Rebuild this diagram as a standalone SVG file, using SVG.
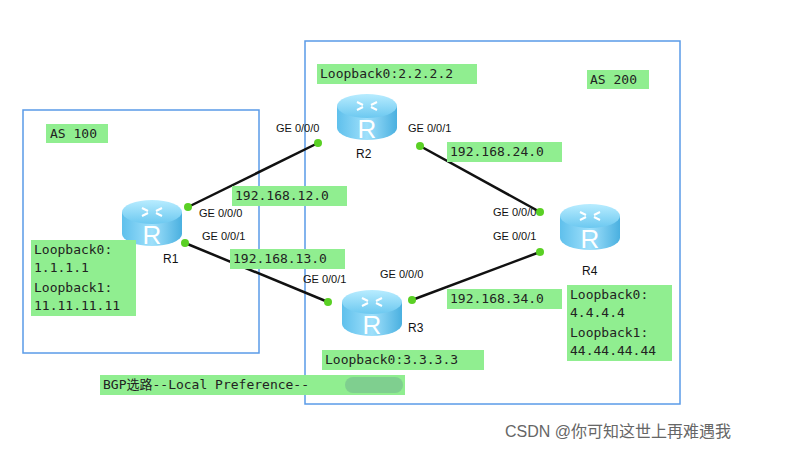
<svg xmlns="http://www.w3.org/2000/svg" width="792" height="449" viewBox="0 0 792 449">
<defs>
<linearGradient id="top" x1="0" y1="0" x2="0" y2="1"><stop offset="0" stop-color="#b8ecff"/><stop offset="1" stop-color="#6cc8f0"/></linearGradient>
<linearGradient id="side" x1="0" y1="0" x2="1" y2="0"><stop offset="0" stop-color="#5fc0ec"/><stop offset="0.5" stop-color="#9fe0fb"/><stop offset="1" stop-color="#4ab0e0"/></linearGradient>
<g id="router">
<path d="M-30,-10 V12 A30,12 0 0 0 30,12 V-10 Z" fill="url(#side)"/>
<ellipse cx="0" cy="-10" rx="30" ry="12" fill="url(#top)"/>
<path d="M-10,-14 l6,3 M10,-6 l-6,-3 M-10,-6 l6,-3 M10,-14 l-6,3" stroke="#fff" stroke-width="2"/>
<text x="0" y="22" font-family="Liberation Sans, sans-serif" font-size="26" fill="#fff" text-anchor="middle">R</text>
</g>
</defs>
<style>
.lb{fill:#90ee90}
.t{font-family:"DejaVu Sans Mono","Noto Sans CJK SC",monospace;font-size:13px;fill:#222}
.s{font-family:"Liberation Sans",sans-serif;font-size:11px;fill:#111}
.n{font-family:"Liberation Sans",sans-serif;font-size:12px;fill:#111}
.ln{stroke:#111;stroke-width:2.5}
.d{fill:#5ad024}
</style>
<rect width="792" height="449" fill="#fff"/>
<rect x="23" y="110" width="236" height="243" fill="none" stroke="#5a9be8" stroke-width="1.5"/>
<rect x="305" y="41" width="375" height="363" fill="none" stroke="#5a9be8" stroke-width="1.5"/>
<g id="connectors">
<line class="ln" x1="188" y1="207" x2="318" y2="143"/>
<line class="ln" x1="185" y1="243" x2="328" y2="302"/>
<line class="ln" x1="420" y1="146" x2="540" y2="212"/>
<line class="ln" x1="412" y1="300" x2="540" y2="252"/>
<circle class="d" cx="188" cy="207" r="4"/><circle class="d" cx="318" cy="143" r="4"/>
<circle class="d" cx="185" cy="243" r="4"/><circle class="d" cx="328" cy="302" r="4"/>
<circle class="d" cx="420" cy="146" r="4"/><circle class="d" cx="540" cy="212" r="4"/>
<circle class="d" cx="412" cy="300" r="4"/><circle class="d" cx="540" cy="252" r="4"/>
</g>
<g id="R1"><use href="#router" x="152" y="222"/><text class="n" x="163" y="263">R1</text></g>
<g id="R2"><use href="#router" x="367" y="116"/><text class="n" x="356" y="158">R2</text></g>
<g id="R3"><use href="#router" x="372" y="312"/><text class="n" x="408" y="332">R3</text></g>
<g id="R4"><use href="#router" x="590" y="226"/><text class="n" x="582" y="275">R4</text></g>
<g id="labels">
<rect class="lb" x="46" y="124" width="62" height="19"/><text class="t" x="50" y="138">AS 100</text>
<rect class="lb" x="587" y="70" width="62" height="19"/><text class="t" x="590" y="84">AS 200</text>
<rect class="lb" x="317" y="64" width="160" height="20"/><text class="t" x="320" y="78">Loopback0:2.2.2.2</text>
<rect class="lb" x="322" y="350" width="162" height="20"/><text class="t" x="325" y="364">Loopback0:3.3.3.3</text>
<rect class="lb" x="31" y="240" width="105" height="76"/>
<text class="t" x="34" y="254">Loopback0:</text><text class="t" x="34" y="272">1.1.1.1</text>
<text class="t" x="34" y="292">Loopback1:</text><text class="t" x="34" y="310">11.11.11.11</text>
<rect class="lb" x="567" y="285" width="105" height="76"/>
<text class="t" x="570" y="299">Loopback0:</text><text class="t" x="570" y="317">4.4.4.4</text>
<text class="t" x="570" y="337">Loopback1:</text><text class="t" x="570" y="355">44.44.44.44</text>
<rect class="lb" x="232" y="186" width="115" height="20"/><text class="t" x="235" y="200">192.168.12.0</text>
<rect class="lb" x="230" y="249" width="115" height="20"/><text class="t" x="233" y="263">192.168.13.0</text>
<rect class="lb" x="447" y="142" width="115" height="20"/><text class="t" x="450" y="156">192.168.24.0</text>
<rect class="lb" x="447" y="289" width="115" height="20"/><text class="t" x="450" y="303">192.168.34.0</text>
<rect class="lb" x="100" y="375" width="305" height="20"/><text class="t" x="103" y="389">BGP选路--Local Preference--</text>
<rect x="345" y="377" width="58" height="16" rx="8" fill="#7fcf8f"/>
<text class="s" x="276" y="132">GE 0/0/0</text>
<text class="s" x="408" y="132">GE 0/0/1</text>
<text class="s" x="199" y="217">GE 0/0/0</text>
<text class="s" x="202" y="240">GE 0/0/1</text>
<text class="s" x="303" y="283">GE 0/0/1</text>
<text class="s" x="380" y="278">GE 0/0/0</text>
<text class="s" x="493" y="216">GE 0/0/0</text>
<text class="s" x="493" y="240">GE 0/0/1</text>
</g>
<text x="505" y="437" font-family="Liberation Sans,Noto Sans CJK SC,sans-serif" font-size="16" fill="#666">CSDN @你可知这世上再难遇我</text>
</svg>
